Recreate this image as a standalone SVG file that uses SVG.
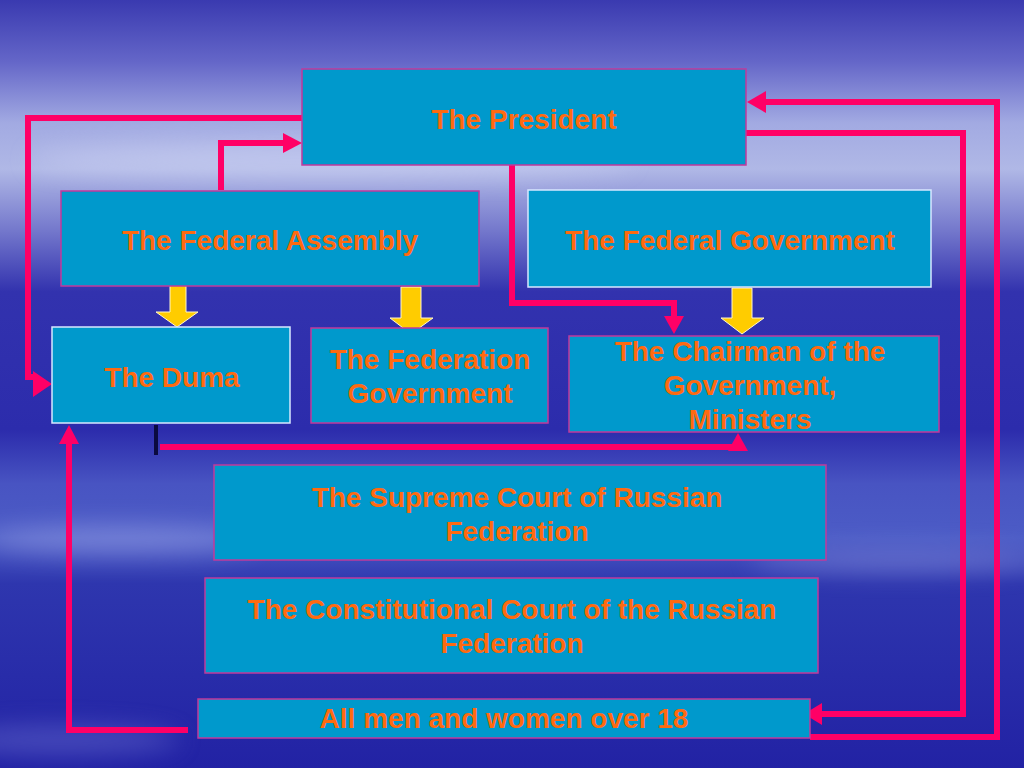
<svg xmlns="http://www.w3.org/2000/svg" width="1024" height="768" viewBox="0 0 1024 768">
<defs>
<linearGradient id="bg" x1="0" y1="0" x2="0" y2="1">
<stop offset="0" stop-color="#3a3ab0"/>
<stop offset="0.08" stop-color="#6466c8"/>
<stop offset="0.16" stop-color="#a2aae2"/>
<stop offset="0.22" stop-color="#b0b8e6"/>
<stop offset="0.30" stop-color="#7478cc"/>
<stop offset="0.38" stop-color="#3232ae"/>
<stop offset="0.56" stop-color="#2c2cac"/>
<stop offset="0.63" stop-color="#4854c2"/>
<stop offset="0.70" stop-color="#4c5cc6"/>
<stop offset="0.76" stop-color="#2e36ae"/>
<stop offset="1" stop-color="#2222a4"/>
</linearGradient>
<filter id="blur" x="-50%" y="-50%" width="200%" height="200%"><feGaussianBlur stdDeviation="12"/></filter>
</defs>
<style>
.box{fill:#0099cc;stroke:#c03a9c;stroke-width:1.5}
.wbox{fill:#0099cc;stroke:#d8e8ff;stroke-width:1.5}
.t{font-family:"Liberation Sans",Arial,sans-serif;font-weight:bold;font-size:28px;fill:#ff6a10;text-anchor:middle}
.c{fill:none;stroke:#ff0066;stroke-width:6}
.ah{fill:#ff0066}
.ya{fill:#ffcc00;stroke:#fff6cc;stroke-width:1}
</style>
<rect width="1024" height="768" fill="url(#bg)"/>
<g filter="url(#blur)" opacity="0.5">
<ellipse cx="120" cy="540" rx="140" ry="14" fill="#a0a8e8"/>
<ellipse cx="500" cy="500" rx="260" ry="10" fill="#8890dc"/>
<ellipse cx="900" cy="560" rx="150" ry="12" fill="#8890dc"/>
<ellipse cx="60" cy="740" rx="120" ry="14" fill="#6a70d0"/>
<ellipse cx="330" cy="160" rx="300" ry="18" fill="#d0d6f4"/>
</g>

<g id="connectors">
<path class="c" d="M302,118 H28 V377 H36"/>
<polygon class="ah" points="33,371 52,384 33,397"/>
<path class="c" d="M221,190 V143 H286"/>
<polygon class="ah" points="283,133 302,143 283,153"/>
<path class="c" d="M746,133 H963 V714 H820"/>
<polygon class="ah" points="822,703 804,714 822,725"/>
<path class="c" d="M810,737 H997 V102 H764"/>
<polygon class="ah" points="766,91 747,102 766,113"/>
<path class="c" d="M188,730 H69 V442"/>
<polygon class="ah" points="59,444 69,425 79,444"/>
<path class="c" d="M512,165 V303 H674 V318"/>
<polygon class="ah" points="664,316 674,334 684,316"/>
<path class="c" d="M160,447 H738 V449"/>
<polygon class="ah" points="728,451 738,433 748,451"/>
<rect x="154" y="425" width="4" height="30" fill="#0a0a40"/>
</g>

<g id="yellow-arrows">
<polygon class="ya" points="170,279 186,279 186,312 198,312 177,327 156,312 170,312"/>
<polygon class="ya" points="401,287 421,287 421,318 433,318 411,334 390,318 401,318"/>
<polygon class="ya" points="732,288 752,288 752,318 764,318 742,334 721,318 732,318"/>
</g>

<g id="president"><rect class="box" x="302" y="69" width="444" height="96"/><text class="t" x="524" y="129">The President</text></g>
<g id="federal-assembly"><rect class="box" x="61" y="191" width="418" height="95"/><text class="t" x="270" y="250">The Federal Assembly</text></g>
<g id="federal-government"><rect class="wbox" x="528" y="190" width="403" height="97"/><text class="t" x="730" y="250">The Federal Government</text></g>
<g id="duma"><rect class="wbox" x="52" y="327" width="238" height="96"/><text class="t" x="172" y="387">The Duma</text></g>
<g id="federation-government"><rect class="box" x="311" y="328" width="237" height="95"/><text class="t" x="430" y="369">The Federation</text><text class="t" x="430" y="403">Government</text></g>
<g id="chairman"><rect class="box" x="569" y="336" width="370" height="96"/><text class="t" x="750" y="361">The Chairman of the</text><text class="t" x="750" y="395">Government,</text><text class="t" x="750" y="429">Ministers</text></g>
<g id="supreme-court"><rect class="box" x="214" y="465" width="612" height="95"/><text class="t" x="517" y="507">The Supreme Court of Russian</text><text class="t" x="517" y="541">Federation</text></g>
<g id="constitutional-court"><rect class="box" x="205" y="578" width="613" height="95"/><text class="t" x="512" y="619">The Constitutional Court of the Russian</text><text class="t" x="512" y="653">Federation</text></g>
<g id="all-men"><rect class="box" x="198" y="699" width="612" height="39"/><text class="t" x="504" y="728">All men and women over 18</text></g>
</svg>
